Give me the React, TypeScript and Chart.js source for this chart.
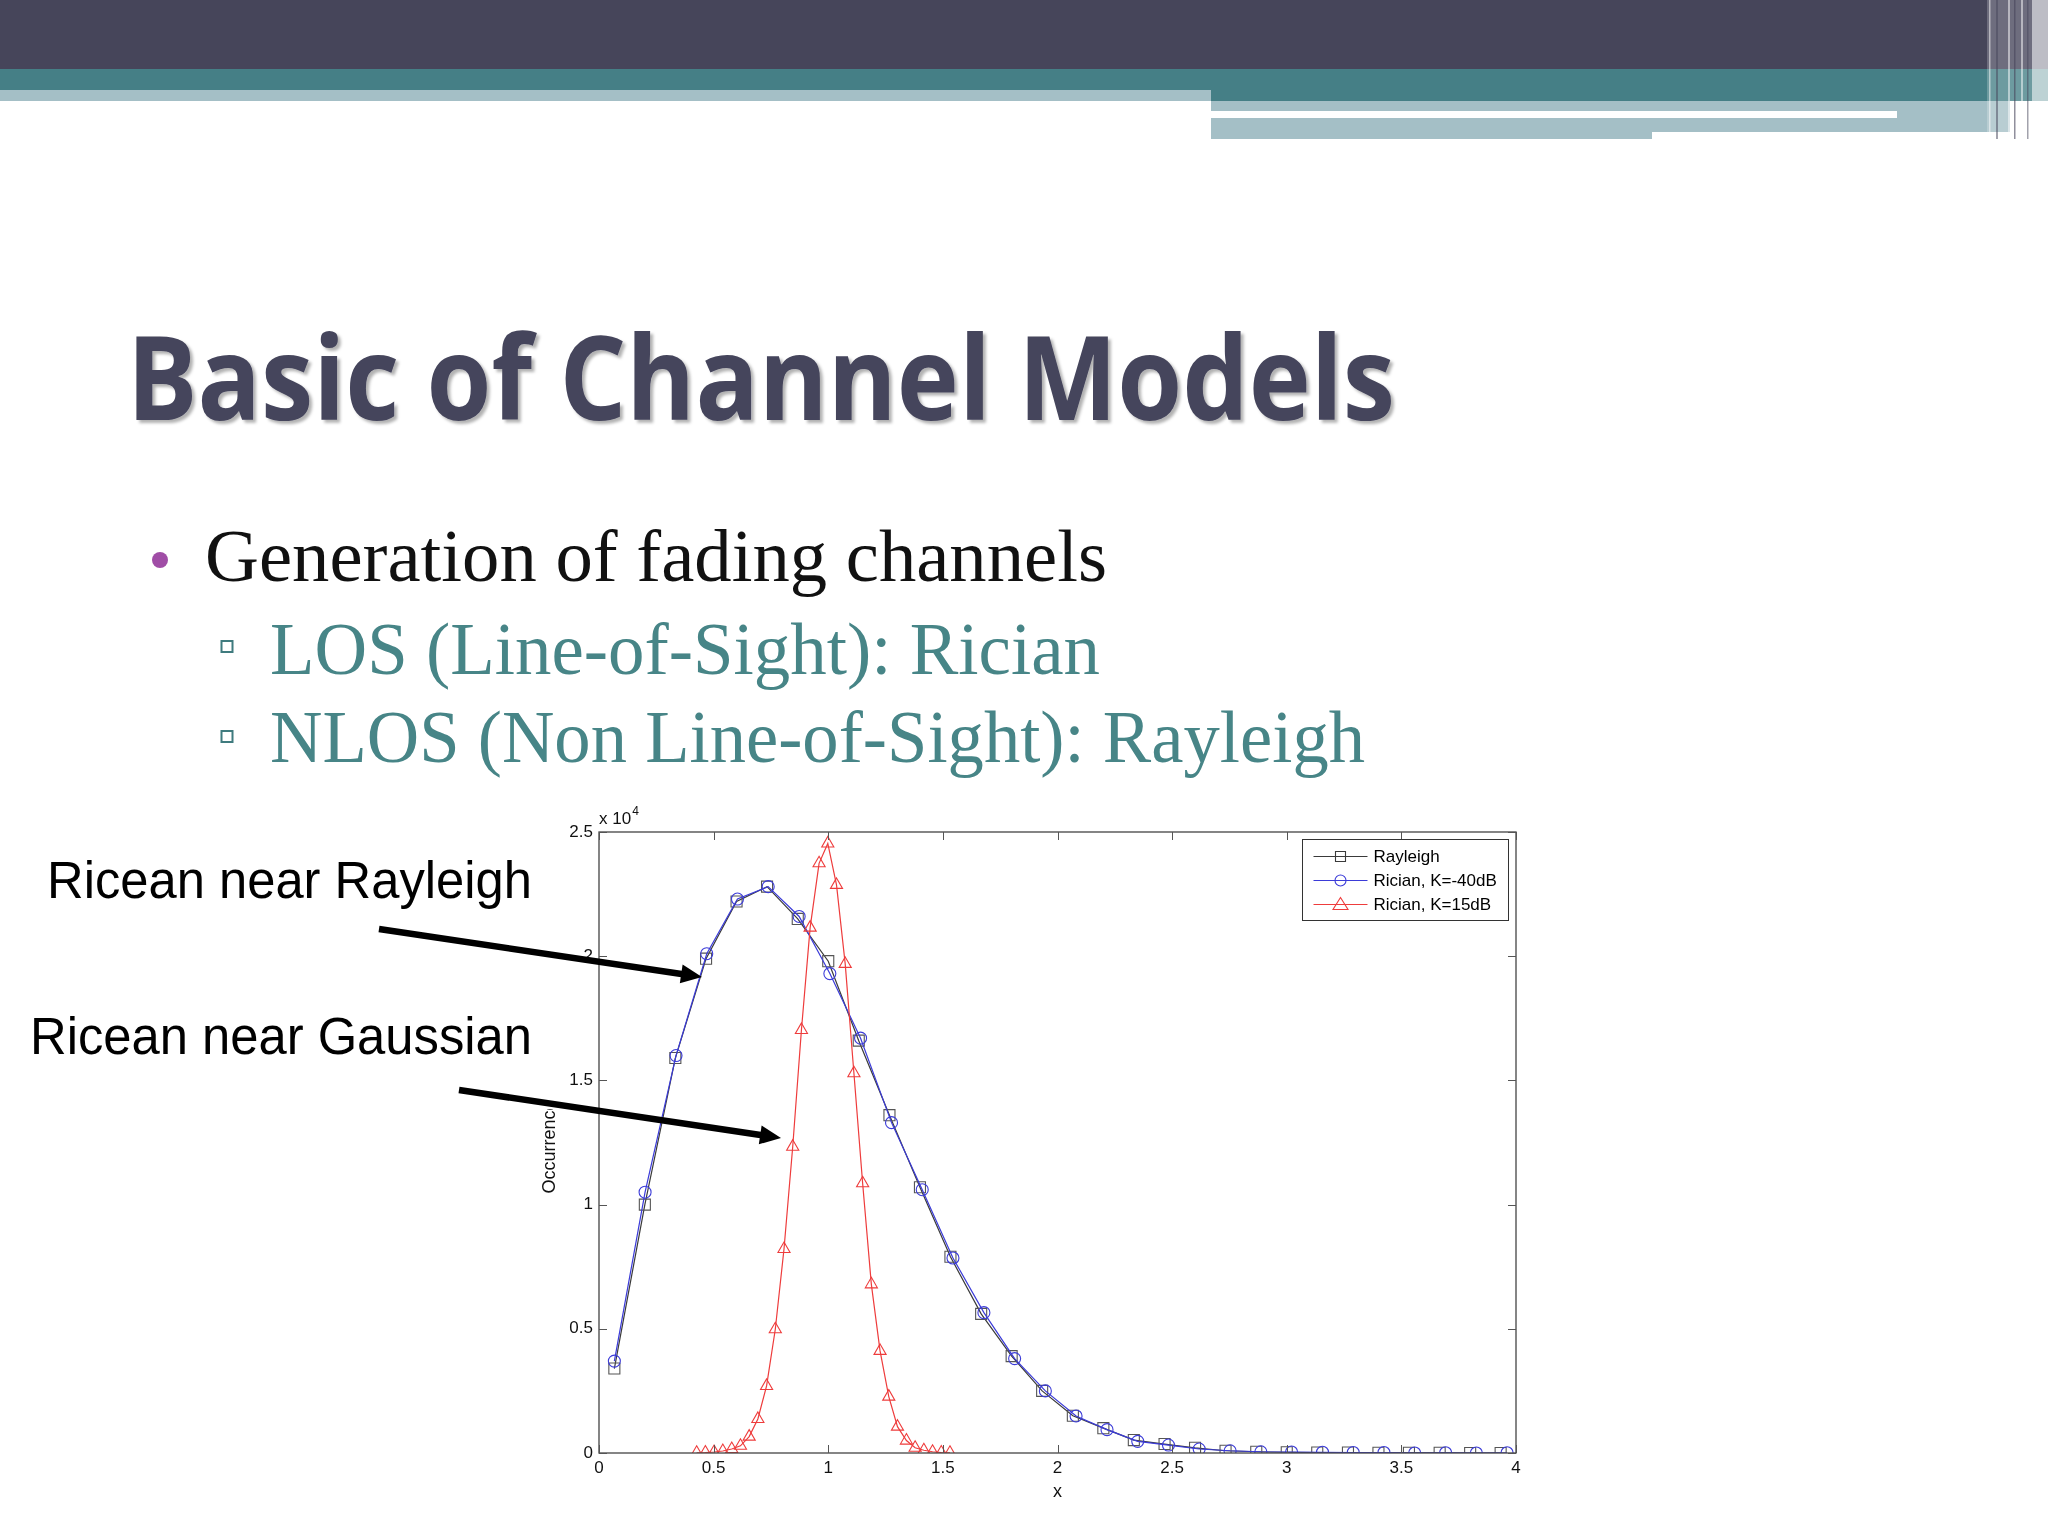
import React, { useEffect, useRef } from 'react';
import { Chart, registerables } from 'chart.js';

Chart.register(...registerables);

// ---------- data (y values in units of 10^4 occurrences) ----------
const seriesLabels = ['Rayleigh', 'Rician, K=-40dB', 'Rician, K=15dB'];

const rayleighX = [0.067, 0.2, 0.333, 0.467, 0.6, 0.733, 0.867, 1.0, 1.133, 1.267, 1.4, 1.533, 1.667, 1.8, 1.933, 2.067, 2.2, 2.333, 2.467, 2.6, 2.733, 2.867, 3.0, 3.133, 3.267, 3.4, 3.533, 3.667, 3.8, 3.933];
const rayleighY = [0.34, 1.0, 1.59, 1.99, 2.22, 2.28, 2.15, 1.98, 1.66, 1.36, 1.07, 0.79, 0.56, 0.39, 0.25, 0.15, 0.1, 0.052, 0.036, 0.021, 0.009, 0.005, 0.003, 0.002, 0.002, 0.001, 0.001, 0.001, 0.0, 0.0];

const ricianLowX = [0.067, 0.201, 0.336, 0.47, 0.604, 0.738, 0.873, 1.007, 1.141, 1.276, 1.41, 1.544, 1.679, 1.813, 1.947, 2.081, 2.216, 2.35, 2.484, 2.618, 2.753, 2.887, 3.021, 3.156, 3.29, 3.424, 3.558, 3.693, 3.827, 3.961];
const ricianLowY = [0.37, 1.05, 1.6, 2.01, 2.23, 2.28, 2.16, 1.93, 1.67, 1.33, 1.06, 0.785, 0.565, 0.38, 0.25, 0.149, 0.094, 0.047, 0.032, 0.016, 0.009, 0.005, 0.004, 0.003, 0.002, 0.002, 0.0, 0.001, 0.0, 0.001];

const ricianHighX = [0.426, 0.464, 0.502, 0.54, 0.579, 0.617, 0.655, 0.693, 0.731, 0.769, 0.807, 0.845, 0.883, 0.921, 0.96, 0.998, 1.036, 1.074, 1.112, 1.15, 1.188, 1.226, 1.264, 1.302, 1.341, 1.379, 1.417, 1.455, 1.493, 1.531];
const ricianHighY = [0.001, 0.002, 0.004, 0.008, 0.016, 0.029, 0.066, 0.137, 0.27, 0.498, 0.821, 1.233, 1.703, 2.115, 2.374, 2.454, 2.287, 1.969, 1.529, 1.086, 0.679, 0.411, 0.227, 0.106, 0.05, 0.021, 0.011, 0.005, 0.002, 0.001];

const xMin = 0;
const xMax = 4;
const xStep = 0.5;
const yMin = 0;
const yMax = 2.5;
const yStep = 0.5;
const xAxisTitle = 'x';
const yAxisTitle = 'Occurrences';
const yExponentBase = 'x 10';
const yExponent = '4';

// ---------- slide text ----------
const slideTitle = 'Basic of Channel Models';
const bulletMain = 'Generation of fading channels';
const bulletSub1 = 'LOS (Line-of-Sight): Rician';
const bulletSub2 = 'NLOS (Non Line-of-Sight): Rayleigh';
const noteRayleigh = 'Ricean near Rayleigh';
const noteGaussian = 'Ricean near Gaussian';

// ---------- styles ----------
const COL_BLACK = '#3a3a3a';
const COL_BLUE = '#3b3bd8';
const COL_RED = '#ee3c3c';
const SANS = '"Liberation Sans", Arial, sans-serif';

const pts = (xs: number[], ys: number[]) => xs.map((x, i) => ({ x, y: ys[i] }));
const fmtTick = (v: any) => String(Math.round(Number(v) * 100) / 100);

function drawMarker(ctx: CanvasRenderingContext2D, style: string, x: number, y: number, color: string) {
  ctx.beginPath();
  ctx.strokeStyle = color;
  ctx.lineWidth = 1.1;
  if (style === 'rect') {
    ctx.rect(x - 5, y - 5, 10, 10);
  } else if (style === 'circle') {
    ctx.arc(x, y, 5.5, 0, Math.PI * 2);
  } else {
    ctx.moveTo(x, y - 7);
    ctx.lineTo(x + 7.5, y + 5);
    ctx.lineTo(x - 7.5, y + 5);
    ctx.closePath();
  }
  ctx.stroke();
}

const framePlugin = {
  id: 'matlabFrame',
  afterDraw(chart: any) {
    const { ctx, chartArea: a, scales } = chart;
    const sx = scales.x;
    const sy = scales.y;
    ctx.save();
    ctx.strokeStyle = '#444';
    ctx.lineWidth = 1.3;
    ctx.strokeRect(a.left, a.top, a.right - a.left, a.bottom - a.top);
    ctx.lineWidth = 1;
    ctx.strokeStyle = '#555';
    const tl = 8;
    sx.ticks.forEach((t: any) => {
      const px = Math.round(sx.getPixelForValue(t.value)) + 0.5;
      ctx.beginPath();
      ctx.moveTo(px, a.bottom);
      ctx.lineTo(px, a.bottom - tl);
      ctx.moveTo(px, a.top);
      ctx.lineTo(px, a.top + tl);
      ctx.stroke();
    });
    sy.ticks.forEach((t: any) => {
      const py = Math.round(sy.getPixelForValue(t.value)) + 0.5;
      ctx.beginPath();
      ctx.moveTo(a.left, py);
      ctx.lineTo(a.left + tl, py);
      ctx.moveTo(a.right, py);
      ctx.lineTo(a.right - tl, py);
      ctx.stroke();
    });
    // exponent label
    ctx.fillStyle = '#111';
    ctx.textBaseline = 'alphabetic';
    ctx.textAlign = 'left';
    ctx.font = '17px ' + SANS;
    ctx.fillText(yExponentBase, a.left, a.top - 8);
    const w = ctx.measureText(yExponentBase).width;
    ctx.font = '12px ' + SANS;
    ctx.fillText(yExponent, a.left + w + 1, a.top - 17);

    // legend box
    const lw = 206;
    const lh = 81;
    const left = Math.round(a.right - 214) + 0.5;
    const top = Math.round(a.top + 7) + 0.5;
    ctx.fillStyle = '#fff';
    ctx.fillRect(left, top, lw, lh);
    ctx.strokeStyle = '#333';
    ctx.lineWidth = 1;
    ctx.strokeRect(left, top, lw, lh);
    chart.data.datasets.forEach((ds: any, i: number) => {
      const cy = top + 17 + i * 24;
      ctx.strokeStyle = ds.borderColor;
      ctx.lineWidth = 1;
      ctx.beginPath();
      ctx.moveTo(left + 11, cy);
      ctx.lineTo(left + 65, cy);
      ctx.stroke();
      drawMarker(ctx, ds.pointStyle, left + 38, cy, ds.borderColor);
      ctx.fillStyle = '#000';
      ctx.font = '17px ' + SANS;
      ctx.textBaseline = 'middle';
      ctx.fillText(ds.label, left + 71, cy + 1);
    });
    ctx.restore();
  },
};

function FadingChart() {
  const ref = useRef<HTMLCanvasElement | null>(null);
  useEffect(() => {
    if (!ref.current) return;
    const tickFont = { family: SANS, size: 17 };
    const chart = new Chart(ref.current, {
      type: 'line',
      data: {
        datasets: [
          {
            label: seriesLabels[0],
            data: pts(rayleighX, rayleighY),
            borderColor: COL_BLACK,
            backgroundColor: 'rgba(0,0,0,0)',
            borderWidth: 1.2,
            pointStyle: 'rect',
            pointRadius: 7.8,
            pointBorderWidth: 1.1,
            pointBorderColor: '#555',
            order: 3,
          },
          {
            label: seriesLabels[1],
            data: pts(ricianLowX, ricianLowY),
            borderColor: COL_BLUE,
            backgroundColor: 'rgba(0,0,0,0)',
            borderWidth: 1.2,
            pointStyle: 'circle',
            pointRadius: 6,
            pointBorderWidth: 1.1,
            order: 2,
          },
          {
            label: seriesLabels[2],
            data: pts(ricianHighX, ricianHighY),
            borderColor: COL_RED,
            backgroundColor: 'rgba(0,0,0,0)',
            borderWidth: 1.2,
            pointStyle: 'triangle',
            pointRadius: 7,
            pointBorderWidth: 1.1,
            order: 1,
          },
        ] as any,
      },
      options: {
        animation: false,
        responsive: false,
        events: [],
        layout: { padding: { top: 42, right: 24, left: 0, bottom: 0 } },
        plugins: { legend: { display: false }, tooltip: { enabled: false } },
        scales: {
          x: {
            type: 'linear',
            min: xMin,
            max: xMax,
            afterFit: (s: any) => {
              s.height = 57;
            },
            ticks: { stepSize: xStep, padding: 5, font: tickFont, color: '#111', maxRotation: 0, callback: fmtTick },
            grid: { display: false, drawTicks: false },
            border: { display: false },
            title: { display: true, text: xAxisTitle, font: { family: SANS, size: 18 }, color: '#111', padding: { top: 0, bottom: 7 } },
          },
          y: {
            type: 'linear',
            min: yMin,
            max: yMax,
            afterFit: (s: any) => {
              s.width = 119;
            },
            ticks: { stepSize: yStep, padding: 6, font: tickFont, color: '#111', callback: fmtTick },
            grid: { display: false, drawTicks: false },
            border: { display: false },
            title: { display: true, text: yAxisTitle, font: { family: SANS, size: 18 }, color: '#111', padding: { top: 59, bottom: 0 } },
          },
        },
      } as any,
      plugins: [framePlugin],
    });
    return () => chart.destroy();
  }, []);
  return (
    <canvas
      ref={ref}
      width={1060}
      height={720}
      style={{ position: 'absolute', left: 480, top: 790, width: 1060, height: 720 }}
    />
  );
}

function Arrow({ x1, y1, x2, y2 }: { x1: number; y1: number; x2: number; y2: number }) {
  const dx = x2 - x1;
  const dy = y2 - y1;
  const len = Math.hypot(dx, dy);
  const ux = dx / len;
  const uy = dy / len;
  const hl = 21;
  const hw = 9.5;
  const bx = x2 - ux * hl;
  const by = y2 - uy * hl;
  const nx = -uy;
  const ny = ux;
  return (
    <g>
      <line x1={x1} y1={y1} x2={bx + ux * 2} y2={by + uy * 2} stroke="#000" strokeWidth={6.5} />
      <polygon
        points={`${x2},${y2} ${bx + nx * hw},${by + ny * hw} ${bx - nx * hw},${by - ny * hw}`}
        fill="#000"
      />
    </g>
  );
}

function Header() {
  return (
    <g>
      <rect x={0} y={0} width={2048} height={69} fill="#46455A" />
      <rect x={0} y={69} width={2048} height={32} fill="#457F86" />
      <rect x={0} y={90} width={1211} height={11} fill="#A4BFC6" />
      <rect x={1211} y={101} width={799} height={31} fill="#A4BFC6" />
      <rect x={1211} y={132} width={441} height={7} fill="#A4BFC6" />
      <rect x={1211} y={111} width={686} height={7} fill="#FFFFFF" />
      <rect x={1987} y={0} width={61} height={139} fill="#FFFFFF" opacity={0.22} />
      <rect x={2032} y={0} width={16} height={139} fill="#FFFFFF" opacity={0.55} />
      <rect x={1989} y={0} width={1.5} height={139} fill="#FFFFFF" opacity={0.5} />
      <rect x={1996} y={0} width={2} height={139} fill="#46455A" opacity={0.5} />
      <rect x={2008} y={0} width={2} height={139} fill="#FFFFFF" opacity={0.5} />
      <rect x={2014} y={0} width={1.5} height={139} fill="#46455A" opacity={0.6} />
      <rect x={2021} y={0} width={2} height={139} fill="#FFFFFF" opacity={0.5} />
      <rect x={2027} y={0} width={1.5} height={139} fill="#46455A" opacity={0.5} />
    </g>
  );
}

export default function App() {
  const serif = '"Liberation Serif", "Times New Roman", serif';
  return (
    <div
      style={{
        position: 'fixed',
        left: 0,
        top: 0,
        width: 2048,
        height: 1536,
        background: '#ffffff',
        overflow: 'hidden',
      }}
    >
      <svg width={2048} height={1536} style={{ position: 'absolute', left: 0, top: 0 }}>
        <defs>
          <filter id="tshadow" x="-5%" y="-20%" width="110%" height="150%">
            <feDropShadow dx="3" dy="3" stdDeviation="1.6" floodColor="#000" floodOpacity="0.3" />
          </filter>
        </defs>
        <Header />
        <text
          x={127}
          y={420}
          fontFamily='"Open Sans", "Liberation Sans", sans-serif'
          fontWeight={700}
          fontSize={116}
          fill="#45455B"
          textLength={1268}
          lengthAdjust="spacingAndGlyphs"
          filter="url(#tshadow)"
        >
          {slideTitle}
        </text>
        <circle cx={160} cy={560} r={8} fill="#A04DA6" />
        <text x={205} y={581} fontFamily={serif} fontSize={74} fill="#111" textLength={902} lengthAdjust="spacingAndGlyphs">
          {bulletMain}
        </text>
        <rect x={221.5} y={641} width={11} height={11} fill="none" stroke="#3F7B7E" strokeWidth={2} />
        <text x={270} y={674} fontFamily={serif} fontSize={73} fill="#478587" textLength={830} lengthAdjust="spacingAndGlyphs">
          {bulletSub1}
        </text>
        <rect x={221.5} y={731} width={11} height={11} fill="none" stroke="#3F7B7E" strokeWidth={2} />
        <text x={270} y={762} fontFamily={serif} fontSize={73} fill="#478587" textLength={1095} lengthAdjust="spacingAndGlyphs">
          {bulletSub2}
        </text>
      </svg>
      <FadingChart />
      <svg width={2048} height={1536} style={{ position: 'absolute', left: 0, top: 0, pointerEvents: 'none' }}>
        <rect x={20} y={1000} width={546} height={109} fill="#ffffff" />
        <text x={47} y={898} fontFamily={SANS} fontSize={51} fill="#000" textLength={485} lengthAdjust="spacingAndGlyphs">
          {noteRayleigh}
        </text>
        <text x={30} y={1054} fontFamily={SANS} fontSize={51} fill="#000" textLength={502} lengthAdjust="spacingAndGlyphs">
          {noteGaussian}
        </text>
        <Arrow x1={379} y1={929} x2={702} y2={977} />
        <Arrow x1={459} y1={1090} x2={781} y2={1138} />
      </svg>
    </div>
  );
}
